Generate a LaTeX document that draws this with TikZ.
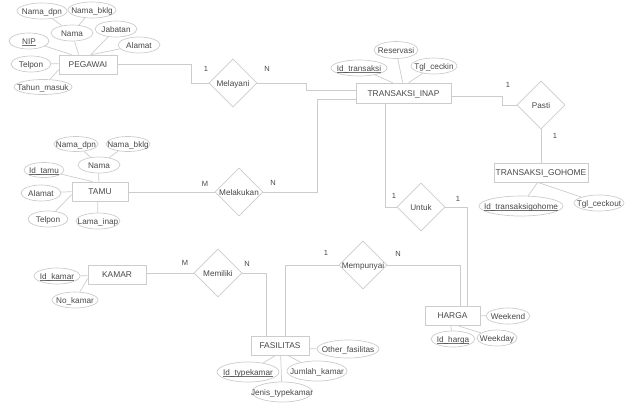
\documentclass[tikz,border=0pt]{standalone}
\usepackage{fontspec}
\setmainfont{Liberation Sans}
\usetikzlibrary{shapes.geometric,calc}
\definecolor{ln}{HTML}{CCCCCC}
\definecolor{tx}{HTML}{484848}
\definecolor{ulc}{HTML}{707070}
\newlength{\ulw}
\newcommand{\ZT}[1]{\smash{\makebox[0pt]{\raisebox{-3pt}{#1}}}}
\newcommand{\UL}[1]{\settowidth{\ulw}{#1}\rlap{\textcolor{ulc}{\rule[-0.9pt]{\ulw}{.3pt}}}#1}
\newcommand{\ent}[6]{% name, x0,y0,x1,y1, text
  \node[entity,minimum width=#4pt-#2pt,minimum height=#5pt-#3pt] (#1) at ({(#2+#4)/2},{(#3+#5)/2}) {\ZT{#6}};}
\newcommand{\att}[6]{% name,x,y,rx,ry,text
  \node[attrib,minimum width=2*#4pt,minimum height=2*#5pt] (#1) at (#2,#3) {\ZT{#6}};}
\newcommand{\rel}[4]{\node[relation] (#1) at (#2,#3) {\ZT{#4}};}
\newcommand{\card}[3]{\node[cardinal] at (#1,#2) {#3};}
\tikzset{
  entity/.style={rectangle,draw=ln,fill=white,inner sep=0pt,text=tx,font=\fontsize{8.4}{9}\selectfont},
  attrib/.style={ellipse,draw=ln,fill=white,inner sep=0pt,text=tx,font=\fontsize{8.2}{9}\selectfont},
  relation/.style={diamond,draw=ln,fill=white,inner sep=0pt,aspect=1,minimum width=48pt,minimum height=48pt,text=tx,font=\fontsize{8.2}{9}\selectfont},
  cardinal/.style={text=tx,inner sep=0pt,font=\fontsize{7.5}{9}\selectfont},
  conn/.style={draw=ln,line width=.7pt},
}
\begin{document}
\begin{tikzpicture}[x=1pt,y=-1pt,line width=.7pt]
\useasboundingbox (0,0) rectangle (640,408);
% entities
\ent{peg}{59}{55}{117}{74}{PEGAWAI}
\ent{ti}{356}{83}{451}{103}{TRANSAKSI\_INAP}
\ent{tamu}{72}{182}{128}{201}{TAMU}
\ent{kamar}{88}{265}{146}{284}{KAMAR}
\ent{fas}{251}{336}{309}{355}{FASILITAS}
\ent{harga}{425}{306}{480}{325}{HARGA}
\ent{go}{494}{163}{588}{182}{TRANSAKSI\_GOHOME}
% relations
\rel{mel}{233}{83}{Melayani}
\rel{lak}{239}{192}{Melakukan}
\rel{mil}{218}{273}{Memiliki}
\rel{pun}{363}{265}{Mempunyai}
\rel{unt}{421}{207}{Untuk}
\rel{pas}{541}{105}{Pasti}
% attributes
\att{pdpn}{42}{11}{25}{8}{Nama\_dpn}
\att{pbk}{92}{10}{24}{8}{Nama\_bklg}
\att{pnm}{72}{33}{21}{8}{Nama}
\att{pjab}{116}{29}{21}{8}{Jabatan}
\att{palm}{139}{45}{21}{8}{Alamat}
\att{pnip}{29}{41}{20}{8}{\UL{NIP}}
\att{ptel}{31}{64}{20}{8}{Telpon}
\att{pth}{43}{87}{29}{7.5}{Tahun\_masuk}
\att{tdpn}{76}{144}{22}{7.5}{Nama\_dpn}
\att{tbk}{128}{144}{22}{7.5}{Nama\_bklg}
\att{tnm}{99}{165}{21}{8}{Nama}
\att{tid}{44}{170}{20}{7.5}{\UL{Id\_tamu}}
\att{talm}{41}{193}{20}{8}{Alamat}
\att{ttel}{48}{219}{20}{8}{Telpon}
\att{tlam}{98}{221}{22}{8}{Lama\_inap}
\att{kid}{57}{276}{23}{8}{\UL{Id\_kamar}}
\att{kno}{75}{300}{23}{8}{No\_kamar}
\att{fid}{248}{372}{31}{10}{\UL{Id\_typekamar}}
\att{fjum}{317}{371}{30}{10}{Jumlah\_kamar}
\att{fjen}{282}{392}{30}{10}{Jenis\_typekamar}
\att{foth}{348}{349}{31}{9}{Other\_fasilitas}
\att{hwe}{508}{316}{22}{8}{Weekend}
\att{hwd}{497}{338}{20}{8}{Weekday}
\att{hid}{453}{339}{22}{8}{\UL{Id\_harga}}
\att{tres}{396}{50}{22}{8.5}{Reservasi}
\att{tidt}{359}{68}{28}{8}{\UL{Id\_transaksi}}
\att{tcin}{434}{66}{23}{8}{Tgl\_ceckin}
\att{gid}{521}{206}{42}{10}{\UL{Id\_transaksigohome}}
\att{gtg}{599}{203}{25}{8}{Tgl\_ceckout}
% attribute connectors
\begin{scope}[every path/.style={conn}]
\path (pdpn) -- (pnm); \path (pbk) -- (pnm);
\path (pnm) -- ($(peg.north west)+(20,0)$);
\path (pnip) -- ($(peg.north west)+(13,0)$);
\path (pjab) -- ($(peg.north west)+(32,0)$);
\path (palm) -- ($(peg.north west)+(33,0)$);
\path (ptel) -- ($(peg.north west)+(0,9)$);
\path (pth) -- ($(peg.north west)+(0,15)$);
\path (tdpn) -- (tnm); \path (tbk) -- (tnm);
\path (tnm) -- ($(tamu.north west)+(27,0)$);
\path (tid) -- ($(tamu.north west)+(21,0)$);
\path (talm) -- ($(tamu.north west)+(0,10)$);
\path (ttel) -- ($(tamu.north west)+(0,13)$);
\path (tlam) -- ($(tamu.south west)+(26,0)$);
\path (kid) -- ($(kamar.north west)+(0,11)$);
\path (kno) -- ($(kamar.north west)+(0,14)$);
\path (fid) -- ($(fas.south west)+(25,0)$);
\path (fjen) -- ($(fas.south west)+(30,0)$);
\path (fjum) -- ($(fas.south west)+(37,0)$);
\path (foth) -- ($(fas.north east)+(0,13)$);
\path (hid) -- ($(harga.south west)+(26,0)$);
\path (hwd) -- ($(harga.south west)+(32,0)$);
\path (hwe) -- ($(harga.north east)+(0,10)$);
\path (tidt) -- ($(ti.north west)+(37,0)$);
\path (tres) -- ($(ti.north west)+(47,0)$);
\path (tcin) -- ($(ti.north west)+(53,0)$);
\path (gid) -- ($(go.south west)+(44,0)$);
\path (gtg) -- ($(go.south west)+(44,0)$);
\end{scope}
% relationship connectors
\coordinate (a1) at (191,64.5);
\coordinate (a2) at (306,83);
\coordinate (a3) at (317,99);
\coordinate (a4) at (502,96.5);
\coordinate (a5) at (356,90);
\draw[conn] (peg.east) -- (a1) |- (mel.west);
\draw[conn] (mel.east) -- (a2) |- (a5);
\draw[conn] (lak.east) -| (a3) -- (ti.west |- a3);
\draw[conn] (tamu.east |- lak.west) -- (lak.west);
\draw[conn] (ti.east |- a4) -- (a4) |- (pas.west);
\draw[conn] (pas.south) -- (go.north -| pas.south);
\draw[conn] (kamar.east |- mil.west) -- (mil.west);
\draw[conn] (mil.east) -| (266.5,336);
\draw[conn] (pun.west) -| (285,336);
\draw[conn] (pun.east) -| (460,306);
\draw[conn] (unt.east) -| (467,306);
\draw[conn] (unt.west) -| (385,103);
% cardinalities
\card{206}{69}{1}
\card{267}{69}{N}
\card{205}{184}{M}
\card{273}{183}{N}
\card{185}{263}{M}
\card{247}{264}{N}
\card{326}{253}{1}
\card{398}{254}{N}
\card{394}{196}{1}
\card{458}{199}{1}
\card{508}{85}{1}
\card{555}{136}{1}
\end{tikzpicture}
\end{document}
